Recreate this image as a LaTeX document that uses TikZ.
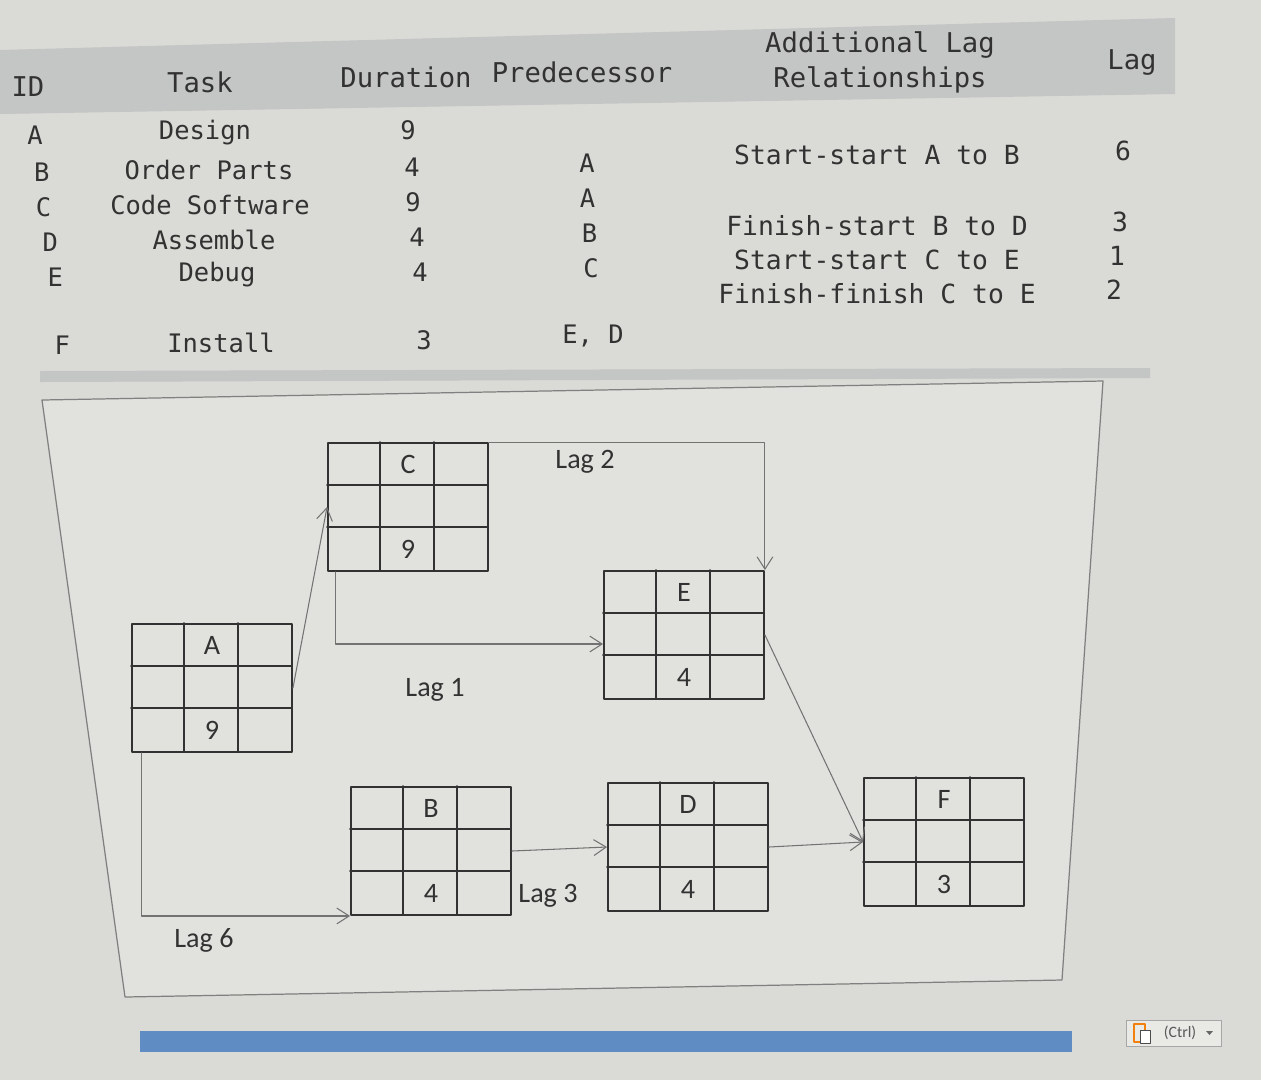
\documentclass[tikz,border=0pt]{standalone}
\usepackage{fontspec}
\newfontfamily\monofont{DejaVu Sans Mono}
\newfontfamily\calfont{Carlito}
\usetikzlibrary{arrows.meta}
\definecolor{screen}{RGB}{218,218,214}
\definecolor{band}{RGB}{196,197,197}
\definecolor{paper}{RGB}{225,225,222}
\definecolor{ink}{RGB}{50,50,50}
\definecolor{barblue}{RGB}{95,140,195}
\begin{document}
\begin{tikzpicture}[x=0.02cm,y=-0.02cm,>={Straight Barb[length=7pt,width=9pt]},line join=round,line cap=round,
    tbl/.style={font=\monofont\fontsize{14.5}{17}\selectfont,text=ink,inner sep=1pt},
    hdr/.style={font=\monofont\fontsize{15.5}{20}\selectfont,text=ink,align=center,inner sep=1pt},
    actbox/.style={draw=ink,line width=1.1pt,minimum width=3.2cm,minimum height=2.56cm,inner sep=0pt},
    cell/.style={font=\calfont\fontsize{16}{18}\selectfont,text=ink,inner sep=0pt},
    lagline/.style={draw=black!55,line width=0.6pt,->},
    laglabel/.style={font=\calfont\fontsize{16}{18}\selectfont,text=ink}]
    \useasboundingbox (0,0) rectangle (1261,1080);
    \fill[screen] (0,0) rectangle (1261,1080);
    \fill[band] (0,50) -- (1175,18) -- (1175,94) -- (0,114) -- cycle;
    \fill[band] (40,371) -- (1150,368) -- (1150,378) -- (40,382) -- cycle;
    % table head
    \node[hdr] (hID) at (28,87) {ID};
    \node[hdr] (hTask) at (200,82) {Task};
    \node[hdr] (hDur) at (406,77) {Duration};
    \node[hdr] (hPred) at (582,72) {Predecessor};
    \node[hdr] (hRel) at (880,62) {Additional Lag\\Relationships};
    \node[hdr] (hLag) at (1132,62) {Lag};
    % table rows
    \foreach \n/\id/\task/\dur/\pred/\y/\dx in {1/A/Design/9//130/0, 2/B/Order Parts/4/A/167/4,
        3/C/Code Software/9/A/202/5, 4/D/Assemble/4/B/237/9, 5/E/Debug/4/C/272/12, 6/F/Install/3/{E, D}/340/16}{
        \node[tbl] (id\n) at (35+1.7*\dx,\y+5) {\id};
        \node[tbl] (task\n) at (205+\dx,\y+3) {\task};
        \node[tbl] (dur\n) at (408+\dx,\y) {\dur};
        \node[tbl] (pred\n) at (585+0.5*\dx,\y-4) {\pred};
    }
    \foreach \n/\rel/\lg/\y in {1/Start-start A to B/6/155, 2/Finish-start B to D/3/226,
        3/Start-start C to E/1/260, 4/Finish-finish C to E/2/294}{
        \node[tbl,font=\monofont\fontsize{15}{17}\selectfont] (rel\n) at (877,\y) {\rel};
        \node[tbl,font=\monofont\fontsize{15}{17}\selectfont] (lag\n) at (1126-3*\n,\y-4) {\lg};
    }
    % network
    \filldraw[fill=paper,draw=black!50,line width=0.7pt] (42,400) -- (1103,381) -- (1062,980) -- (125,997) -- cycle;
    \node[actbox] (A) at (212,688) {};
    \node[actbox] (C) at (408,507) {};
    \node[actbox] (E) at (684,635) {};
    \node[actbox] (B) at (431,851) {};
    \node[actbox] (D) at (688,847) {};
    \node[actbox] (F) at (944,842) {};
    \foreach \b/\l/\d in {A/A/9,B/B/4,C/C/9,D/D/4,E/E/4,F/F/3}{
        \draw[ink,line width=1.1pt] (\b.north west) ++(53.3,0) -- ++(0,128) (\b.north west) ++(106.7,0) -- ++(0,128)
            (\b.north west) ++(0,42.7) -- ++(160,0) (\b.north west) ++(0,85.3) -- ++(160,0);
        \path (\b) ++(0,-42.7) node[cell] (\b-id) {\l} (\b) ++(0,42.7) node[cell] (\b-dur) {\d};
    }
    \draw[lagline] (A.east) -- (C.west);
    \draw[lagline] ([xshift=0.16cm]C.south west) |- ([yshift=-0.18cm]E.west);
    \draw[lagline] (C.north east) -| (E.north east);
    \draw[lagline] ([xshift=0.2cm]A.south west) |- (B.south west);
    \draw[lagline] (B.east) -- (D.west);
    \draw[lagline] (E.east) -- (F.west);
    \draw[lagline] (D.east) -- (F.west);
    \node[laglabel] (lag1) at (435,690) {Lag 1};
    \node[laglabel] (lag2) at (585,462) {Lag 2};
    \node[laglabel] (lag3) at (548,896) {Lag 3};
    \node[laglabel] (lag6) at (204,940) {Lag 6};
    % bottom of screen
    \fill[barblue] (140,1031) rectangle (1072,1052);
    \node[draw=black!35,fill=screen!60!white,minimum width=1.9cm,minimum height=0.52cm,inner sep=0pt] (paste) at (1174,1033) {};
    \node[font=\calfont\fontsize{9}{10}\selectfont,text=black!65] (ctrl) at (1180,1033) {(Ctrl)};
    \draw[orange!80!brown,line width=0.8pt] (1134,1024) rectangle (1145,1042);
    \filldraw[fill=white,draw=black!70,line width=0.5pt] (1140,1030) rectangle (1150,1043);
    \fill[black!60] (1206,1031) -- (1213,1031) -- (1209.5,1035) -- cycle;
\end{tikzpicture}
\end{document}
